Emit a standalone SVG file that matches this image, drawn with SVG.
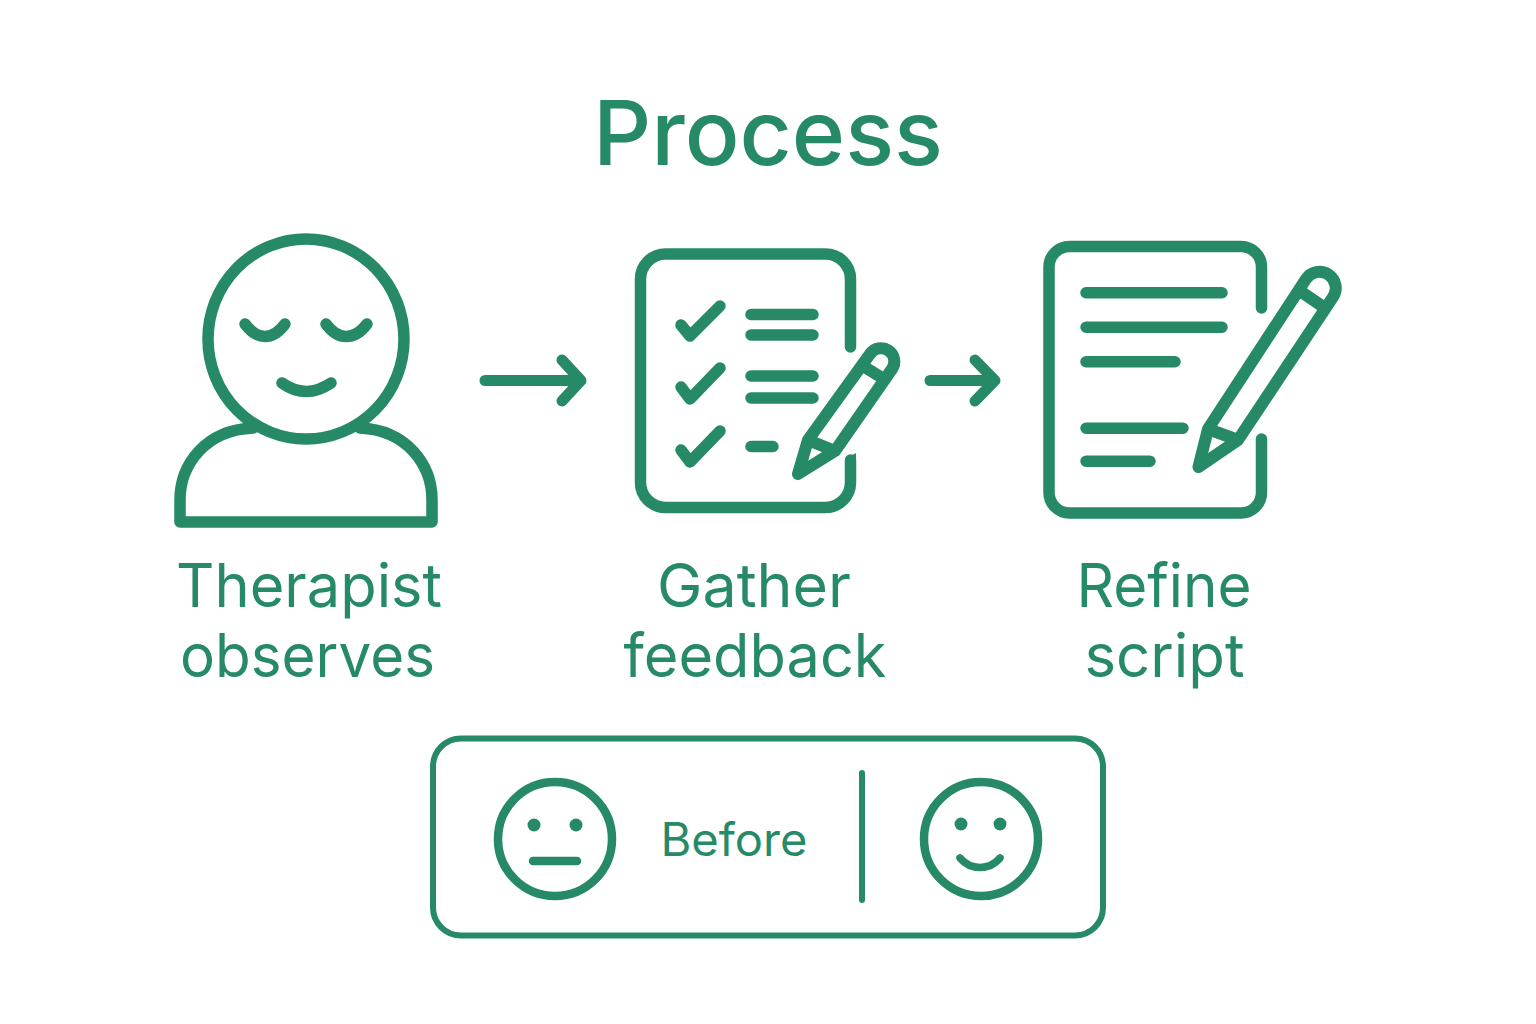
<svg xmlns="http://www.w3.org/2000/svg" width="1536" height="1024" viewBox="0 0 1536 1024">
<style>
.s{fill:none;stroke:#278a66;stroke-linecap:round;stroke-linejoin:round}
.w10{stroke-width:11}.w11{stroke-width:11.500}.w12{stroke-width:12}
.t{font-family:"Inter","Noto Sans",sans-serif;fill:#278a66;text-anchor:middle;font-weight:400}
.l{font-size:60px}
</style>
<rect width="1536" height="1024" fill="#ffffff"/>
<text id="title" class="t" x="768" y="165" font-size="90" style="font-weight:500" textLength="350" lengthAdjust="spacingAndGlyphs">Process</text>
<g id="therapist">
<ellipse class="s w11" cx="306" cy="339" rx="98" ry="100"/>
<path class="s w11" d="M253,428C205,430 180,465 180,500V522H432V500C432,465 407,430 360,428"/>
<path class="s w11" d="M245,324C251,332 258,336.500 265,336.500C272,336.500 279,332 285,324M326,324C332,332 339,336.500 346,336.500C353,336.500 361,332 367,324M282,383Q306,400 331,383"/>
<text class="t l" x="309" y="607" textLength="266" lengthAdjust="spacingAndGlyphs">Therapist</text>
<text class="t l" x="307.500" y="677" textLength="255" lengthAdjust="spacingAndGlyphs">observes</text>
</g>
<g id="gather">
<path class="s w11" d="M850.500,347V279A25,25 0 0 0 825.500,254H665.500A25,25 0 0 0 640.500,279V482.500A25,25 0 0 0 665.500,507.500H825.500A25,25 0 0 0 850.500,482.500V460"/>
<path d="M845,459L856,453V465H845Z" fill="#278a66"/>
<path class="s w11" d="M681,325L690,336L720,306M681,387L690,399L720,368M681,450L690,462L720,431"/>
<path class="s w11" d="M751,314.500H813M751,335H813M751,376H813M751,398H813M751,446.500H773"/>
<path class="s w12" d="M798,474L808,440L870,354A13,13 0 0 1 892,369L835,451ZM808,440L835,451M862,365.500L884,379"/>
<text class="t l" x="754" y="607" textLength="194" lengthAdjust="spacingAndGlyphs">Gather</text>
<text class="t l" x="755" y="677" textLength="263" lengthAdjust="spacingAndGlyphs">feedback</text>
</g>
<g id="refine">
<path class="s w11" d="M1261.500,308V267A20.500,20.500 0 0 0 1241,246.500H1069.500A20.500,20.500 0 0 0 1049,267V492.500A20.500,20.500 0 0 0 1069.500,513H1241A20.500,20.500 0 0 0 1261.500,492.500V439"/>
<path class="s w11" d="M1086,292.700H1222M1086,327.300H1222M1086,361.700H1175M1086,428.300H1183M1086,461.300H1150"/>
<path class="s w12" d="M1198.500,467L1208,429L1306,279A15,15 0 0 1 1333,297L1238,440ZM1208,429L1238,440M1300,291L1325,308"/>
<text class="t l" x="1164" y="607" textLength="175" lengthAdjust="spacingAndGlyphs">Refine</text>
<text class="t l" x="1164.500" y="677" textLength="160" lengthAdjust="spacingAndGlyphs">script</text>
</g>
<g id="connectors">
<path class="s w10" d="M485,380.500H580M562,360L581,380.500L562,401"/>
<path class="s w10" d="M930,380.500H994M975,360L995,380.500L975,401"/>
</g>
<g id="comparison">
<rect x="433" y="738.500" width="670" height="197" rx="28" fill="none" stroke="#278a66" stroke-width="6"/>
<circle cx="555" cy="839" r="57" fill="none" stroke="#278a66" stroke-width="8.500"/>
<circle cx="534" cy="825" r="6.500" fill="#278a66"/>
<circle cx="576" cy="825" r="6.500" fill="#278a66"/>
<path class="s" d="M533,861H577" style="stroke-width:8.500"/>
<text class="t" x="734" y="856" font-size="46" textLength="147" lengthAdjust="spacingAndGlyphs">Before</text>
<path class="s" style="stroke-width:6" d="M862,773V900"/>
<circle cx="981" cy="839" r="57" fill="none" stroke="#278a66" stroke-width="8.500"/>
<circle cx="961" cy="824" r="6.500" fill="#278a66"/>
<circle cx="1000" cy="824" r="6.500" fill="#278a66"/>
<path class="s" style="stroke-width:7.500" d="M960,858A26,26 0 0 0 1000,858"/>
</g>
</svg>
